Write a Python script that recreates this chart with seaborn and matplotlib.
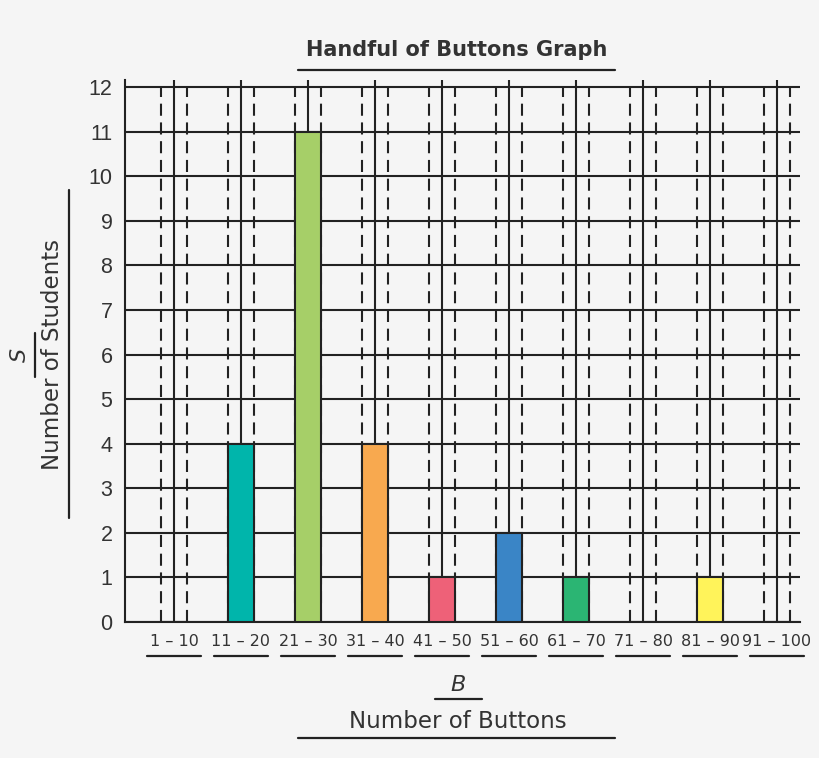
import numpy as np
import pandas as pd
import matplotlib.pyplot as plt
import matplotlib.transforms as mtransforms
from matplotlib.lines import Line2D
import seaborn as sns

# data
buttons = ['1 – 10', '11 – 20', '21 – 30', '31 – 40', '41 – 50',
           '51 – 60', '61 – 70', '71 – 80', '81 – 90', '91 – 100']
students = [0, 4, 11, 4, 1, 2, 1, 0, 1, 0]
bar_colors = ['#f5f5f5', '#00b5ab', '#a6cf68', '#f8a94f', '#ee6178',
              '#3a85c6', '#2bb573', '#f5f5f5', '#fff35a', '#f5f5f5']
y_ticks = list(range(0, 13))

bg = '#f5f5f5'
ink = '#222222'
txt = '#333333'

df = pd.DataFrame({'buttons': buttons, 'students': students})

sns.set_style('white')
plt.rcParams['font.family'] = ['DejaVu Sans']

W, H = 820, 758
fig = plt.figure(figsize=(W / 100, H / 100), dpi=100, facecolor=bg)
ax = fig.add_axes([125 / W, (H - 622) / H, 675 / W, 542 / H])
ax.set_facecolor(bg)

pos = np.arange(len(buttons))
# grid: solid line in the middle of each column, dashed lines at the bar edges
ax.vlines(pos, 0, 12.2, color=ink, lw=1.5, zorder=1)
ax.vlines(np.concatenate([pos - 0.2, pos + 0.2]), 0, 12, color=ink, lw=1.5,
          linestyles=(0, (5.8, 3.2)), zorder=1)
for t in y_ticks:
    ax.axhline(t, color=ink, lw=1.5, zorder=1)

sns.barplot(data=df, x='buttons', y='students', hue='buttons', palette=bar_colors,
            legend=False, width=0.4, edgecolor=ink, linewidth=1.5, saturation=1,
            ax=ax, zorder=3)

ax.set_xlim(-0.731, 9.343)
ax.set_ylim(0, 12.16)
ax.set_yticks(y_ticks)
ax.set_xlabel('')
ax.set_ylabel('')
for s in ['top', 'right']:
    ax.spines[s].set_visible(False)
for s in ['left', 'bottom']:
    ax.spines[s].set_color(ink)
    ax.spines[s].set_linewidth(1.5)
ax.tick_params(axis='y', length=5, width=1.5, color=ink, pad=4, labelsize=15.5,
               labelcolor=txt, labelfontfamily='Liberation Sans')
ax.tick_params(axis='x', length=0, pad=9, labelsize=11.5, labelcolor=txt)

# underline under each category label
trans = mtransforms.blended_transform_factory(ax.transData, fig.transFigure)
for p in pos:
    ax.plot([p - 0.41, p + 0.41], [(H - 656) / H] * 2, color=ink, lw=1.6,
            transform=trans, clip_on=False)


def fline(x0, y0, x1, y1, lw=1.6):
    fig.add_artist(Line2D([x0 / W, x1 / W], [(H - y0) / H, (H - y1) / H],
                          color=ink, lw=lw))


# title
fig.text(457 / W, (H - 50) / H, 'Handful of Buttons Graph', ha='center', va='center',
         fontsize=15, fontweight='bold', color=txt)
fline(298, 70, 615, 70)

# x label as a fraction
fig.text(458 / W, (H - 685) / H, 'B', ha='center', va='center', fontsize=16,
         style='italic', color=txt)
fline(435, 699, 482, 699)
fig.text(458 / W, (H - 722) / H, 'Number of Buttons', ha='center', va='center',
         fontsize=16.5, color=txt)
fline(298, 738, 615, 738)

# y label as a fraction
fig.text(20 / W, (H - 355) / H, 'S', ha='center', va='center', fontsize=16,
         style='italic', rotation=90, color=txt)
fline(35, 333, 35, 377)
fig.text(53 / W, (H - 354) / H, 'Number of Students', ha='center', va='center',
         fontsize=16.5, rotation=90, color=txt)
fline(69, 190, 69, 518)

fig.savefig('out.png', dpi=100, facecolor=bg)
